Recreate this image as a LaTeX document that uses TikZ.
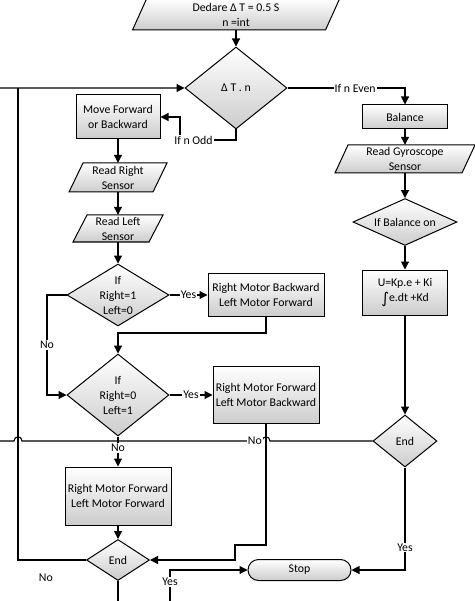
\documentclass[tikz,border=0pt]{standalone}
\usepackage{fontspec}
\setmainfont{Carlito}
\newfontfamily\symfont{DejaVu Sans}
\usetikzlibrary{shapes.geometric,shapes.misc,arrows.meta}
\newcommand\ionode[7]{%
  \path[iofill] ({#2-#4/2-#6/2},{#3+#5/2}) -- ({#2+#4/2-#6/2},{#3+#5/2}) -- ({#2+#4/2+#6/2},{#3-#5/2}) -- ({#2-#4/2+#6/2},{#3-#5/2}) -- cycle;
  \node[txt, minimum width=#4pt, minimum height=#5pt] (#1) at (#2,#3) {#7};}
\begin{document}
\begin{tikzpicture}[x=1pt,y=-1pt, font=\fontsize{11.8}{15}\selectfont,
  box/.style={draw, line width=1pt, top color=white, bottom color=gray!40, align=center, inner sep=0pt},
  dia/.style={diamond, draw, line width=1pt, top color=white, bottom color=gray!40, align=center, inner sep=0pt, aspect=1.6},
  iofill/.style={draw, line width=1pt, top color=white, bottom color=gray!40},
  txt/.style={align=center, inner sep=0pt},
  con/.style={line width=1.1pt},
  arr/.style={con, -{Triangle[length=8pt,width=8pt]}},
  lbl/.style={fill=white, inner sep=1pt}]
\useasboundingbox (0,0) rectangle (474,601);

% input/output shapes
\ionode{decl}{236}{14.5}{193}{31}{14}{Dedare Δ T = 0.5 S\\n =int}
\ionode{rr}{118}{177.5}{84}{29}{14}{Read Right\\Sensor}
\ionode{rl}{118}{228.5}{76}{27}{14}{Read Left\\Sensor}
\ionode{gyro}{405}{159}{127}{28}{13}{Read Gyroscope\\Sensor}

% decisions
\node[dia, minimum width=102pt, minimum height=82pt] (dtn) at (236,88) {Δ T . n};
\node[dia, minimum width=102pt, minimum height=62pt, label={[txt]center:{If\\Right=1\\Left=0}}] (d1) at (118,295) {};
\node[dia, minimum width=102pt, minimum height=82pt, label={[txt]center:{If\\Right=0\\Left=1}}] (d2) at (118,395) {};
\node[dia, minimum width=104pt, minimum height=45pt] (ifb) at (405,222) {If Balance on};
\node[dia, minimum width=64pt, minimum height=52pt] (endR) at (405,441) {End};
\node[dia, minimum width=63pt, minimum height=41pt] (endB) at (118,560) {End};

% processes
\node[box, minimum width=84pt, minimum height=44pt] (move) at (118,117) {Move Forward\\or Backward};
\node[box, minimum width=85pt, minimum height=24pt] (balance) at (405,117) {Balance};
\node[box, minimum width=116pt, minimum height=43pt] (rmb) at (266,295) {Right Motor Backward\\Left Motor Forward};
\node[box, minimum width=106pt, minimum height=57pt] (rmf2) at (266,395) {Right Motor Forward\\Left Motor Backward};
\node[box, minimum width=106pt, minimum height=58pt] (rff) at (118,496) {Right Motor Forward\\Left Motor Forward};
\node[box, minimum width=85pt, minimum height=45pt] (ubox) at (405,292.5) {U=Kp.e + Ki\\\raisebox{-2pt}{\symfont\fontsize{15}{15}\selectfont ∫}e.dt +Kd};
\node[box, rounded rectangle, minimum width=103pt, minimum height=21pt] (stop) at (299.5,570) {Stop};

% connectors
\draw[arr] (decl.south) -- (dtn.north);
\draw[arr] (dtn.east) -- node[lbl,pos=0.576]{If n Even} (dtn.east -| balance.north) -- (balance.north);
\draw[arr] (dtn.south) |- node[lbl,pos=0.88]{If n Odd} (180,140) -- (180,117) -- (move.east);
\draw[arr] (move.south) -- (rr.north);
\draw[arr] (rr.south) -- (rl.north);
\draw[arr] (rl.south) -- (d1.north);
\draw[arr] (d1.east) -- node[lbl]{Yes} (rmb.west);
\draw[arr] (rmb.south) -- ++(0,16) -| (d2.north);
\draw[arr] (d1.west) -- (47,295) |- node[lbl,pos=0.25]{No} (d2.west);
\draw[arr] (d2.east) -- node[lbl]{Yes} (rmf2.west);
\draw[arr] (d2.south) -- node[lbl,pos=0.39]{No} (rff.north);
\draw[arr] (rff.south) -- (endB.north);
\draw[arr] (rmf2.south) -- (266,545) -- (235,545) -- (235,560) -- (endB.east);
\draw[arr] (endB.south) -- (118,612) -| node[lbl,pos=0.857]{Yes} (170,570) -- (stop.west);
\draw[con] (endB.west) -- node[pos=0.59, yshift=-18pt]{No} (18,560) -- (18,88);

\draw[arr] (balance.south) -- (gyro.north);
\draw[arr] (gyro.south) -- (ifb.north);
\draw[arr] (ifb.south) -- (ubox.north);
\draw[arr] (ubox.south) -- (endR.north);
\draw[arr] (endR.south) |- node[lbl,pos=0.39]{Yes} (stop.east);
\draw[arr] (endR.west) -- (270,441) .. controls (270,435.5) and (262,435.5) .. (262,441)
  -- node[lbl,pos=0.03]{No} (22,441) .. controls (22,435.5) and (14,435.5) .. (14,441)
  -- (-6,441) |- (dtn.west);
\end{tikzpicture}
\end{document}
